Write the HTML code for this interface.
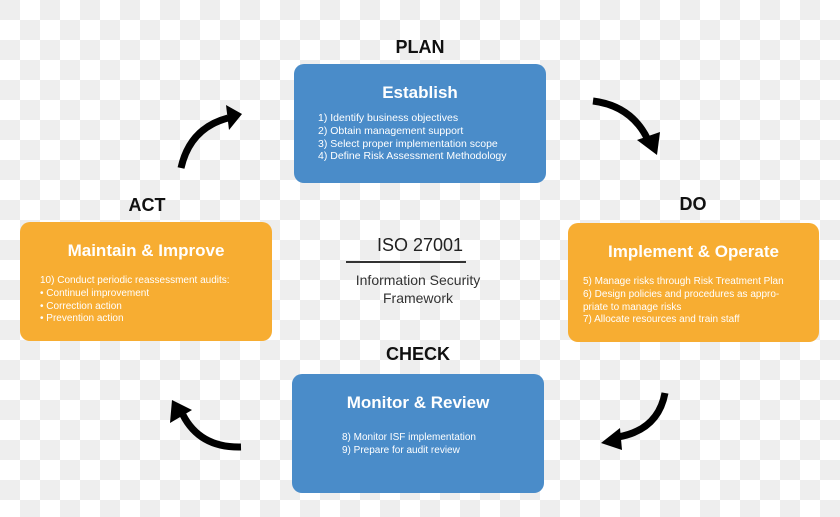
<!DOCTYPE html>
<html><head><meta charset="utf-8"><style>
html,body{margin:0;padding:0}
body{width:840px;height:517px;position:relative;overflow:hidden;font-family:"Liberation Sans",sans-serif;
background-color:#fff;
background-image:conic-gradient(#eeeeee 25%,transparent 0 50%,#eeeeee 0 75%,transparent 0);
background-size:40px 40px;background-position:20px 0}
.box{position:absolute;border-radius:10px;color:#fff;box-sizing:border-box}
.blue{background:#4a8cc9}
.or{background:#f7ad32}
.t{text-align:center;font-size:17px;font-weight:bold;position:absolute;left:0;right:0}
.l{position:absolute;font-size:10px;line-height:12.8px}
.lab{position:absolute;font-size:18px;font-weight:bold;color:#111;transform:translateX(-50%)}
.c{position:absolute;text-align:center;color:#333;transform:translateX(-50%)}
</style></head><body>
<div class="lab" style="left:420px;top:37px">PLAN</div>
<div class="lab" style="left:147px;top:195px">ACT</div>
<div class="lab" style="left:693px;top:194px">DO</div>
<div class="lab" style="left:418px;top:344px">CHECK</div>

<div class="box blue" style="left:294px;top:64px;width:252px;height:119px">
<div class="t" style="top:19px">Establish</div>
<div class="l" style="left:24px;top:48px;font-size:10.5px">1) Identify business objectives<br>2) Obtain management support<br>3) Select proper implementation scope<br>4) Define Risk Assessment Methodology</div>
</div>
<div class="box or" style="left:20px;top:222px;width:252px;height:119px">
<div class="t" style="top:19px">Maintain &amp; Improve</div>
<div class="l" style="left:20px;top:53px">10) Conduct periodic reassessment audits:<br>• Continuel improvement<br>• Correction action<br>• Prevention action</div>
</div>
<div class="box or" style="left:568px;top:223px;width:251px;height:119px">
<div class="t" style="top:19px">Implement &amp; Operate</div>
<div class="l" style="left:15px;top:53px">5) Manage risks through Risk Treatment Plan<br>6) Design policies and procedures as appro-<br>priate to manage risks<br>7) Allocate resources and train staff</div>
</div>
<div class="box blue" style="left:292px;top:374px;width:252px;height:119px">
<div class="t" style="top:19px">Monitor &amp; Review</div>
<div class="l" style="left:50px;top:58px">8) Monitor ISF implementation<br>9) Prepare for audit review</div>
</div>

<div class="c" style="left:420px;top:235px;font-size:18px;color:#222">ISO 27001</div>
<div style="position:absolute;left:346px;top:261px;width:120px;height:2px;background:#333"></div>
<div class="c" style="left:418px;top:271px;font-size:14px;line-height:18px;white-space:nowrap">Information Security<br>Framework</div>

<svg width="840" height="517" style="position:absolute;left:0;top:0">
<g fill="none" stroke="#000" stroke-width="7">
<path d="M181 168 Q190 128 228 118"/>
<path d="M593 101 Q632 106 648 140"/>
<path d="M665 393 Q658 430 618 437"/>
<path d="M241 447 Q200 448 183 415"/>
</g>
<g fill="#000">
<polygon points="242,114 226,105 229,130"/>
<polygon points="657,155 637,140 660,132"/>
<polygon points="601,443 620,428 622,450"/>
<polygon points="172,400 170,423 192,410"/>
</g>
</svg>
</body></html>
